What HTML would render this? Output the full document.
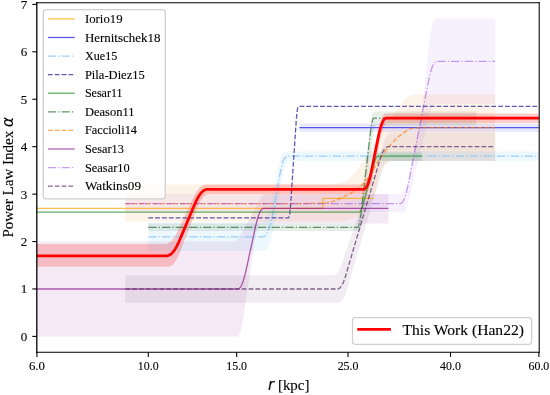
<!DOCTYPE html>
<html><head><meta charset="utf-8"><style>html,body{margin:0;padding:0;background:#fff;}svg{display:block;}</style></head><body>
<svg width="550" height="395" viewBox="0 0 550 395">
<rect width="550" height="395" fill="#fff"/>
<defs><clipPath id="ax"><rect x="36.90" y="2.70" width="502.00" height="349.60"/></clipPath></defs>
<g clip-path="url(#ax)">
<path d="M36.9,241.5 L233.9,241.5 L234.4,241.5 L234.9,241.4 L235.4,241.2 L235.9,240.9 L236.4,240.6 L236.9,240.2 L237.9,239.2 L238.4,238.6 L239.4,237.1 L240.4,235.3 L260.4,198.9 L260.9,198.1 L261.9,196.7 L262.9,195.6 L263.9,194.8 L264.4,194.5 L264.9,194.3 L265.4,194.2 L265.9,194.1 L266.4,194.1 L388.4,194.1 L388.4,223.5 L260.9,223.5 L260.4,223.5 L259.9,223.8 L259.4,224.3 L258.9,225.1 L258.4,226.1 L257.9,227.5 L257.4,229.0 L256.9,230.9 L256.4,233.0 L255.4,238.0 L254.4,244.1 L243.4,317.1 L242.4,323.0 L241.4,327.8 L240.9,329.8 L240.4,331.5 L239.9,333.0 L239.4,334.2 L238.9,335.2 L238.4,335.8 L237.9,336.3 L237.4,336.4 L36.9,336.4 Z" fill="#800080" fill-opacity="0.085" stroke="none"/>
<path d="M125.3,275.2 L333.7,275.2 L334.2,275.2 L334.7,275.1 L335.2,274.9 L335.7,274.6 L336.2,274.2 L336.7,273.7 L337.7,272.5 L338.7,271.0 L339.7,269.1 L340.7,266.9 L341.2,265.6 L342.2,262.9 L383.2,143.5 L383.7,142.1 L384.7,139.7 L385.7,137.6 L386.7,135.9 L387.2,135.2 L387.7,134.5 L388.7,133.5 L389.2,133.1 L389.7,132.8 L390.2,132.6 L390.7,132.5 L391.2,132.5 L495.2,132.5 L495.2,160.9 L389.2,160.9 L388.7,160.9 L388.2,161.1 L387.7,161.3 L387.2,161.7 L386.7,162.1 L386.2,162.7 L385.7,163.3 L385.2,164.0 L384.7,164.9 L383.7,166.9 L382.7,169.3 L381.7,172.1 L381.2,173.7 L347.2,288.4 L346.2,291.6 L345.7,293.1 L344.7,295.7 L343.7,297.8 L342.7,299.6 L341.7,301.0 L341.2,301.6 L340.7,302.0 L340.2,302.3 L339.7,302.6 L339.2,302.7 L338.7,302.7 L125.3,302.7 Z" fill="#6e4678" fill-opacity="0.100" stroke="none"/>
<path d="M125.3,184.6 L330.2,184.6 L331.7,184.6 L333.7,184.4 L335.7,184.0 L337.7,183.6 L341.2,182.6 L344.7,181.4 L345.7,181.0 L347.2,180.1 L348.7,179.0 L350.7,177.2 L353.7,174.1 L355.2,172.5 L356.2,171.3 L357.2,170.0 L358.2,168.6 L360.2,165.6 L368.7,151.7 L375.2,140.7 L377.7,136.6 L380.7,131.9 L384.2,126.8 L387.7,121.8 L390.7,117.8 L393.7,113.9 L397.7,109.0 L403.2,101.6 L404.7,99.8 L405.7,98.8 L407.2,97.4 L408.2,96.7 L409.2,96.2 L409.7,96.0 L412.7,95.3 L414.7,95.0 L416.2,94.7 L417.7,94.6 L419.2,94.5 L495.2,94.5 L495.2,160.9 L392.2,160.9 L391.2,161.0 L390.7,161.1 L389.7,161.4 L388.7,161.9 L387.2,162.8 L386.2,163.6 L384.7,165.0 L383.7,165.9 L383.2,166.6 L382.7,167.5 L382.2,168.4 L381.7,169.5 L380.7,172.0 L379.7,174.8 L377.7,180.7 L376.7,184.3 L375.2,190.4 L374.7,192.3 L374.2,193.9 L373.7,195.2 L372.2,198.6 L370.7,201.5 L369.2,204.0 L368.2,205.5 L367.2,206.8 L366.2,208.1 L364.7,209.8 L363.2,211.4 L361.7,213.0 L360.2,214.4 L359.2,215.2 L358.2,216.0 L357.2,216.7 L356.2,217.2 L355.2,217.7 L352.7,218.7 L350.2,219.6 L348.2,220.3 L346.7,220.7 L345.2,221.0 L343.7,221.3 L341.7,221.5 L339.7,221.6 L125.3,221.6 Z" fill="#f5a050" fill-opacity="0.130" stroke="none"/>
<path d="M125.3,194.1 L399.7,194.1 L400.2,194.1 L400.7,194.0 L401.2,193.7 L401.7,193.4 L402.7,192.4 L403.7,191.2 L404.7,189.8 L405.2,189.0 L405.7,187.9 L406.2,186.5 L406.7,184.8 L407.2,182.9 L408.2,178.6 L410.2,169.2 L412.2,160.1 L416.2,140.9 L418.2,131.9 L419.2,126.9 L419.7,124.0 L420.7,117.4 L422.7,102.4 L423.7,94.4 L424.7,85.8 L425.2,81.1 L427.2,61.1 L428.7,47.4 L429.7,39.1 L430.2,35.7 L431.2,29.8 L431.7,27.1 L432.2,24.8 L432.7,23.1 L433.2,22.0 L433.7,21.0 L434.2,20.2 L434.7,19.5 L435.2,19.0 L435.7,18.7 L436.2,18.6 L495.2,18.6 L495.2,104.0 L435.2,104.0 L434.7,104.0 L434.2,104.3 L433.7,104.7 L433.2,105.2 L432.7,105.9 L432.2,106.8 L431.7,107.9 L431.2,109.1 L430.2,112.0 L429.2,115.6 L409.2,198.7 L408.2,202.6 L407.2,205.8 L406.7,207.2 L406.2,208.4 L405.7,209.4 L405.2,210.3 L404.7,211.0 L404.2,211.5 L403.7,211.9 L403.2,212.1 L402.7,212.1 L125.3,212.1 Z" fill="#b478f0" fill-opacity="0.100" stroke="none"/>
<path d="M148.3,222.6 L260.7,222.6 L262.2,222.4 L263.2,222.2 L263.7,222.1 L264.2,221.4 L265.2,219.5 L266.2,218.0 L267.2,216.0 L268.2,213.6 L268.7,212.2 L269.2,210.7 L269.7,209.0 L270.7,204.9 L272.7,196.0 L275.1,184.0 L277.1,173.6 L278.1,168.8 L280.1,160.8 L281.1,157.2 L281.6,155.8 L282.1,154.7 L282.6,153.9 L283.6,152.8 L284.1,152.3 L284.6,151.9 L285.1,151.6 L285.6,151.5 L286.1,151.4 L538.9,151.4 L538.9,160.9 L289.1,160.9 L288.6,161.0 L288.1,161.2 L287.6,161.5 L287.1,162.0 L286.6,162.6 L285.6,164.0 L285.1,165.0 L284.6,166.5 L284.1,168.3 L283.1,172.8 L281.1,182.9 L280.1,189.0 L278.1,202.1 L275.6,217.4 L273.6,228.6 L272.7,233.8 L272.2,236.0 L271.7,237.9 L271.2,239.6 L270.2,242.7 L269.2,245.2 L268.2,247.2 L267.2,249.6 L266.7,250.4 L266.2,250.6 L265.2,250.9 L263.7,251.0 L148.3,251.0 Z" fill="#87cefa" fill-opacity="0.150" stroke="none"/>
<path d="M148.3,223.5 L356.5,223.5 L357.0,223.2 L357.5,222.4 L358.0,221.1 L358.5,219.3 L359.0,217.0 L359.5,214.3 L360.0,211.0 L360.5,207.2 L370.0,128.6 L370.5,124.7 L371.0,121.3 L371.4,118.5 L371.9,116.1 L372.4,114.2 L372.9,112.9 L373.4,112.0 L373.9,111.6 L374.4,111.6 L476.3,111.6 L476.3,125.3 L376.4,125.3 L375.9,125.4 L375.4,125.7 L374.9,126.6 L374.4,128.0 L373.9,129.8 L373.4,132.1 L372.9,134.9 L372.4,138.2 L371.9,142.0 L363.0,215.1 L362.5,218.8 L362.0,222.0 L361.5,224.8 L361.0,227.0 L360.5,228.8 L360.0,230.0 L359.5,230.8 L359.0,231.1 L148.3,231.1 Z" fill="#5f8c64" fill-opacity="0.150" stroke="none"/>
<path d="M36.9,212.1 L358.1,212.1 L358.6,211.9 L359.1,211.5 L359.6,210.8 L360.1,209.9 L360.6,208.8 L361.1,207.4 L361.6,205.8 L362.1,203.9 L373.1,160.1 L373.6,158.3 L374.0,156.8 L374.5,155.4 L375.0,154.4 L375.5,153.5 L376.0,152.9 L376.5,152.5 L377.0,152.4 L422.0,152.4 L422.0,160.9 L379.0,160.9 L378.5,161.0 L378.0,161.3 L377.5,161.9 L377.0,162.6 L376.5,163.5 L376.0,164.7 L375.5,166.0 L375.0,167.6 L364.1,205.1 L363.6,206.7 L363.1,208.1 L362.6,209.3 L362.1,210.2 L361.6,211.0 L361.1,211.6 L360.6,212.0 L360.1,212.1 L36.9,212.1 Z" fill="#3c8c46" fill-opacity="0.160" stroke="none"/>
<path d="M299.4,123.4 L538.9,123.4 L538.9,132.0 L299.4,132.0 Z" fill="#0000ff" fill-opacity="0.085" stroke="none"/>
<path d="M36.9,243.9 L165.4,243.9 L166.4,243.8 L167.4,243.5 L168.4,243.1 L169.4,242.5 L170.4,241.7 L171.4,240.7 L172.4,239.6 L173.4,238.3 L174.4,236.8 L175.9,234.3 L176.9,232.4 L177.9,230.4 L193.4,197.5 L194.9,194.6 L196.4,192.0 L197.4,190.5 L198.4,189.2 L199.4,188.0 L200.4,187.0 L201.4,186.2 L202.4,185.6 L202.9,185.3 L203.9,184.9 L204.9,184.7 L205.9,184.6 L362.9,184.6 L363.4,184.5 L363.9,184.3 L364.4,183.9 L364.9,183.4 L365.4,182.7 L365.9,181.9 L366.4,180.9 L367.4,178.5 L368.4,175.5 L368.9,173.8 L369.9,169.9 L370.9,165.5 L377.9,131.2 L378.9,127.0 L379.9,123.3 L380.4,121.6 L380.9,120.2 L381.9,117.7 L382.4,116.6 L382.9,115.7 L383.4,115.0 L383.9,114.4 L384.4,114.0 L384.9,113.6 L385.4,113.5 L538.9,113.5 L538.9,123.0 L387.4,123.0 L386.9,123.1 L386.4,123.4 L385.9,123.9 L385.4,124.5 L384.9,125.2 L384.4,126.1 L383.9,127.1 L382.9,129.7 L382.4,131.1 L381.9,132.8 L380.9,136.4 L379.9,140.7 L372.9,175.0 L371.9,179.4 L370.9,183.3 L370.4,185.0 L369.4,188.0 L368.4,190.4 L367.9,191.3 L367.4,192.2 L366.9,192.9 L366.4,193.4 L365.9,193.8 L365.4,194.0 L364.9,194.1 L208.9,194.1 L207.9,194.2 L206.9,194.5 L205.9,194.9 L204.9,195.6 L203.9,196.5 L203.4,197.1 L202.4,198.3 L201.4,199.7 L200.4,201.3 L199.4,203.2 L197.9,206.3 L196.4,209.9 L180.9,250.1 L179.9,252.6 L178.9,254.9 L177.9,257.0 L176.9,258.9 L175.9,260.6 L174.9,262.1 L173.9,263.4 L172.9,264.4 L172.4,264.9 L171.4,265.7 L170.4,266.2 L169.4,266.5 L168.4,266.7 L36.9,266.7 Z" fill="#ff0000" fill-opacity="0.200" stroke="none"/>
<path d="M36.9,208.3 L322.6,208.3 L323.1,198.4 L373.5,198.4" fill="none" stroke="#ffa500" stroke-width="1.30" stroke-opacity="0.70" stroke-linejoin="round"/>
<path d="M299.4,127.7 L538.9,127.7" fill="none" stroke="#3c3ce6" stroke-width="1.30" stroke-opacity="0.85" stroke-linejoin="round"/>
<path d="M148.3,236.8 L262.2,236.8 L263.7,236.7 L264.7,236.4 L265.2,236.2 L265.7,235.5 L266.7,233.4 L267.7,231.6 L268.7,229.3 L269.7,226.6 L270.2,225.0 L270.7,223.3 L271.2,221.4 L272.2,216.8 L274.1,206.7 L276.6,193.0 L278.6,181.3 L279.6,175.9 L281.6,166.8 L282.6,162.8 L283.1,161.1 L283.6,159.8 L284.1,159.0 L285.1,157.7 L285.6,157.2 L286.1,156.7 L286.6,156.4 L287.1,156.2 L287.6,156.2 L538.9,156.2" fill="none" stroke="#87c3f5" stroke-width="1.30" stroke-opacity="0.80" stroke-linejoin="round" stroke-dasharray="8.27,2.07,1.29,2.07"/>
<path d="M148.3,217.8 L288.6,217.8 L289.1,216.8 L289.6,214.3 L290.1,210.3 L290.6,204.7 L291.1,197.7 L296.1,122.6 L296.6,116.4 L297.1,111.6 L297.6,108.4 L298.1,106.7 L298.6,106.4 L538.9,106.4" fill="none" stroke="#3c3ca0" stroke-width="1.30" stroke-opacity="0.85" stroke-linejoin="round" stroke-dasharray="4.78,2.07"/>
<path d="M36.9,212.1 L359.1,212.1 L359.6,211.9 L360.1,211.5 L360.6,210.9 L361.1,210.1 L361.6,209.0 L362.1,207.7 L362.6,206.2 L363.1,204.4 L374.0,163.4 L374.5,161.8 L375.0,160.3 L375.5,159.0 L376.0,158.0 L376.5,157.2 L377.0,156.6 L377.5,156.3 L378.0,156.2 L422.0,156.2" fill="none" stroke="#3a9a3a" stroke-width="1.30" stroke-opacity="0.80" stroke-linejoin="round"/>
<path d="M148.3,227.3 L357.5,227.3 L358.0,227.1 L358.5,226.3 L359.0,224.9 L359.5,223.0 L360.0,220.4 L360.5,217.3 L361.0,213.7 L361.5,209.4 L370.5,131.8 L371.0,128.1 L371.4,125.0 L371.9,122.5 L372.4,120.6 L372.9,119.2 L373.4,118.4 L373.9,118.2 L476.3,118.2" fill="none" stroke="#3c7846" stroke-width="1.30" stroke-opacity="0.80" stroke-linejoin="round" stroke-dasharray="8.27,2.07,1.29,2.07"/>
<path d="M125.3,203.6 L302.8,203.6 L313.7,203.4 L324.7,203.1 L326.7,202.9 L328.7,202.6 L330.2,202.3 L332.2,201.7 L334.2,201.0 L336.2,200.2 L338.2,199.4 L340.7,198.2 L349.2,194.1 L352.2,192.4 L355.2,190.5 L358.2,188.3 L359.7,187.1 L361.2,185.8 L362.2,184.9 L363.2,183.8 L365.2,181.5 L367.2,178.9 L370.2,174.8 L371.2,173.3 L372.7,170.9 L377.2,163.0 L379.2,159.7 L381.2,156.8 L383.7,153.4 L386.2,150.1 L388.2,147.7 L391.7,143.6 L393.7,141.4 L395.7,139.3 L397.7,137.4 L399.2,136.1 L404.7,132.1 L407.2,130.4 L409.2,129.4 L410.2,128.9 L411.2,128.6 L412.2,128.3 L413.2,128.2 L418.2,127.9 L423.2,127.7 L495.2,127.7" fill="none" stroke="#ff7f0e" stroke-width="1.30" stroke-opacity="0.70" stroke-linejoin="round" stroke-dasharray="4.78,2.07"/>
<path d="M36.9,289.0 L237.9,289.0 L238.4,288.9 L238.9,288.7 L239.4,288.3 L239.9,287.8 L240.4,287.2 L240.9,286.4 L241.4,285.5 L242.4,283.2 L243.4,280.4 L243.9,278.8 L244.9,275.2 L245.9,271.0 L255.4,227.2 L255.9,225.0 L256.9,221.0 L257.9,217.5 L258.4,216.0 L258.9,214.6 L259.9,212.3 L260.4,211.3 L260.9,210.5 L261.4,209.8 L261.9,209.2 L262.4,208.8 L262.9,208.5 L263.4,208.4 L263.9,208.3 L388.4,208.3" fill="none" stroke="#800080" stroke-width="1.30" stroke-opacity="0.62" stroke-linejoin="round"/>
<path d="M125.3,203.6 L400.2,203.6 L400.7,203.6 L401.2,203.4 L401.7,203.0 L402.2,202.5 L402.7,201.8 L403.2,201.0 L403.7,200.1 L404.2,199.0 L405.2,196.3 L405.7,194.7 L406.2,193.0 L407.2,189.1 L408.2,184.6 L408.7,182.1 L428.7,80.2 L429.7,75.7 L430.2,73.6 L430.7,71.8 L431.7,68.5 L432.7,65.8 L433.2,64.7 L433.7,63.8 L434.2,63.0 L434.7,62.3 L435.2,61.9 L435.7,61.5 L436.2,61.3 L436.7,61.3 L495.2,61.3" fill="none" stroke="#8a2be2" stroke-width="1.30" stroke-opacity="0.45" stroke-linejoin="round" stroke-dasharray="8.27,2.07,1.29,2.07"/>
<path d="M125.3,289.0 L337.7,289.0 L338.2,288.9 L338.7,288.7 L339.2,288.4 L339.7,288.1 L340.2,287.6 L340.7,287.0 L341.7,285.5 L342.7,283.7 L343.7,281.4 L344.7,278.7 L345.2,277.2 L380.2,158.8 L380.7,157.3 L381.7,154.6 L382.7,152.3 L383.7,150.3 L384.2,149.5 L384.7,148.8 L385.2,148.2 L385.7,147.7 L386.2,147.3 L386.7,147.0 L387.2,146.8 L387.7,146.7 L388.2,146.7 L495.2,146.7" fill="none" stroke="#643c73" stroke-width="1.30" stroke-opacity="0.80" stroke-linejoin="round" stroke-dasharray="4.78,2.07"/>
<path d="M36.9,255.8 L166.9,255.8 L167.9,255.6 L168.9,255.3 L169.9,254.8 L170.9,254.1 L171.9,253.3 L172.9,252.2 L173.9,250.9 L175.4,248.7 L176.4,246.9 L177.4,245.0 L178.4,242.9 L179.4,240.6 L194.9,203.8 L196.4,200.5 L197.9,197.7 L198.9,196.0 L199.9,194.5 L200.9,193.2 L201.9,192.1 L202.9,191.2 L203.9,190.4 L204.9,189.9 L205.4,189.7 L206.4,189.4 L207.4,189.4 L363.4,189.4 L363.9,189.3 L364.4,189.2 L364.9,188.9 L365.4,188.4 L365.9,187.8 L366.4,187.1 L366.9,186.2 L367.4,185.1 L368.4,182.5 L369.4,179.4 L369.9,177.6 L370.9,173.5 L371.9,168.8 L378.4,136.4 L379.4,132.0 L380.4,128.2 L380.9,126.6 L381.4,125.0 L382.4,122.5 L382.9,121.4 L383.4,120.5 L383.9,119.8 L384.4,119.2 L384.9,118.7 L385.4,118.4 L385.9,118.2 L538.9,118.2" fill="none" stroke="#ff0000" stroke-width="2.75" stroke-opacity="1.00" stroke-linejoin="round"/>
</g>
<path d="M36.2,2.70 H539.7 M36.2,352.30 H539.7" stroke="#000" stroke-width="1.1" fill="none"/>
<path d="M36.8,2.1 V352.9" stroke="#000" stroke-width="1.3" fill="none"/>
<path d="M539.2,2.1 V352.9" stroke="#000" stroke-width="1.05" fill="none"/>
<line x1="32.30" y1="336.40" x2="36.90" y2="336.40" stroke="#000" stroke-width="1.1"/>
<text x="27.2" y="340.80" font-size="13" text-anchor="end" font-family="'Liberation Serif', 'DejaVu Serif', serif" stroke="#000" stroke-width="0.12">0</text>
<line x1="32.30" y1="288.97" x2="36.90" y2="288.97" stroke="#000" stroke-width="1.1"/>
<text x="27.2" y="293.37" font-size="13" text-anchor="end" font-family="'Liberation Serif', 'DejaVu Serif', serif" stroke="#000" stroke-width="0.12">1</text>
<line x1="32.30" y1="241.54" x2="36.90" y2="241.54" stroke="#000" stroke-width="1.1"/>
<text x="27.2" y="245.94" font-size="13" text-anchor="end" font-family="'Liberation Serif', 'DejaVu Serif', serif" stroke="#000" stroke-width="0.12">2</text>
<line x1="32.30" y1="194.11" x2="36.90" y2="194.11" stroke="#000" stroke-width="1.1"/>
<text x="27.2" y="198.51" font-size="13" text-anchor="end" font-family="'Liberation Serif', 'DejaVu Serif', serif" stroke="#000" stroke-width="0.12">3</text>
<line x1="32.30" y1="146.68" x2="36.90" y2="146.68" stroke="#000" stroke-width="1.1"/>
<text x="27.2" y="151.08" font-size="13" text-anchor="end" font-family="'Liberation Serif', 'DejaVu Serif', serif" stroke="#000" stroke-width="0.12">4</text>
<line x1="32.30" y1="99.25" x2="36.90" y2="99.25" stroke="#000" stroke-width="1.1"/>
<text x="27.2" y="103.65" font-size="13" text-anchor="end" font-family="'Liberation Serif', 'DejaVu Serif', serif" stroke="#000" stroke-width="0.12">5</text>
<line x1="32.30" y1="51.82" x2="36.90" y2="51.82" stroke="#000" stroke-width="1.1"/>
<text x="27.2" y="56.22" font-size="13" text-anchor="end" font-family="'Liberation Serif', 'DejaVu Serif', serif" stroke="#000" stroke-width="0.12">6</text>
<line x1="32.30" y1="4.39" x2="36.90" y2="4.39" stroke="#000" stroke-width="1.1"/>
<text x="27.2" y="8.79" font-size="13" text-anchor="end" font-family="'Liberation Serif', 'DejaVu Serif', serif" stroke="#000" stroke-width="0.12">7</text>
<line x1="36.90" y1="352.30" x2="36.90" y2="356.90" stroke="#000" stroke-width="1.1"/>
<text x="36.90" y="370.4" font-size="13" text-anchor="middle" font-family="'Liberation Serif', 'DejaVu Serif', serif" stroke="#000" stroke-width="0.12" textLength="16.0" lengthAdjust="spacingAndGlyphs">6.0</text>
<line x1="148.27" y1="352.30" x2="148.27" y2="356.90" stroke="#000" stroke-width="1.1"/>
<text x="148.27" y="370.4" font-size="13" text-anchor="middle" font-family="'Liberation Serif', 'DejaVu Serif', serif" stroke="#000" stroke-width="0.12" textLength="20.8" lengthAdjust="spacingAndGlyphs">10.0</text>
<line x1="236.67" y1="352.30" x2="236.67" y2="356.90" stroke="#000" stroke-width="1.1"/>
<text x="236.67" y="370.4" font-size="13" text-anchor="middle" font-family="'Liberation Serif', 'DejaVu Serif', serif" stroke="#000" stroke-width="0.12" textLength="20.8" lengthAdjust="spacingAndGlyphs">15.0</text>
<line x1="348.03" y1="352.30" x2="348.03" y2="356.90" stroke="#000" stroke-width="1.1"/>
<text x="348.03" y="370.4" font-size="13" text-anchor="middle" font-family="'Liberation Serif', 'DejaVu Serif', serif" stroke="#000" stroke-width="0.12" textLength="20.8" lengthAdjust="spacingAndGlyphs">25.0</text>
<line x1="450.50" y1="352.30" x2="450.50" y2="356.90" stroke="#000" stroke-width="1.1"/>
<text x="450.50" y="370.4" font-size="13" text-anchor="middle" font-family="'Liberation Serif', 'DejaVu Serif', serif" stroke="#000" stroke-width="0.12" textLength="20.8" lengthAdjust="spacingAndGlyphs">40.0</text>
<line x1="538.90" y1="352.30" x2="538.90" y2="356.90" stroke="#000" stroke-width="1.1"/>
<text x="538.90" y="370.4" font-size="13" text-anchor="middle" font-family="'Liberation Serif', 'DejaVu Serif', serif" stroke="#000" stroke-width="0.12" textLength="20.8" lengthAdjust="spacingAndGlyphs">60.0</text>
<text x="268" y="389.8" font-size="15" font-family="'Liberation Serif', 'DejaVu Serif', serif" stroke="#000" stroke-width="0.12" textLength="41.5" lengthAdjust="spacingAndGlyphs"><tspan font-family="'DejaVu Sans', sans-serif" font-style="italic" font-size="15">r</tspan> [kpc]</text>
<text transform="translate(12.5,237.6) rotate(-90)" font-size="15.5" font-family="'Liberation Serif', 'DejaVu Serif', serif" stroke="#000" stroke-width="0.12" textLength="120.5" lengthAdjust="spacingAndGlyphs">Power Law Index <tspan font-family="'DejaVu Sans', sans-serif" font-style="italic">α</tspan></text>
<rect x="43.3" y="9.7" width="122" height="189.1" rx="2.8" fill="#fff" fill-opacity="0.8" stroke="#cfcfcf" stroke-width="1.25"/>
<line x1="47.9" y1="18.90" x2="74.7" y2="18.90" stroke="#ffa500" stroke-width="1.30" stroke-opacity="0.70"/>
<text x="84.9" y="23.00" font-size="13.4" font-family="'Liberation Serif', 'DejaVu Serif', serif" stroke="#000" stroke-width="0.12" textLength="37.7" lengthAdjust="spacingAndGlyphs">Iorio19</text>
<line x1="47.9" y1="37.48" x2="74.7" y2="37.48" stroke="#3c3ce6" stroke-width="1.30" stroke-opacity="0.85"/>
<text x="84.9" y="41.58" font-size="13.4" font-family="'Liberation Serif', 'DejaVu Serif', serif" stroke="#000" stroke-width="0.12" textLength="75.5" lengthAdjust="spacingAndGlyphs">Hernitschek18</text>
<line x1="47.9" y1="56.06" x2="74.7" y2="56.06" stroke="#87c3f5" stroke-width="1.30" stroke-opacity="0.80" stroke-dasharray="8.27,2.07,1.29,2.07"/>
<text x="84.9" y="60.16" font-size="13.4" font-family="'Liberation Serif', 'DejaVu Serif', serif" stroke="#000" stroke-width="0.12" textLength="32.4" lengthAdjust="spacingAndGlyphs">Xue15</text>
<line x1="47.9" y1="74.64" x2="74.7" y2="74.64" stroke="#3c3ca0" stroke-width="1.30" stroke-opacity="0.85" stroke-dasharray="4.78,2.07"/>
<text x="84.9" y="78.74" font-size="13.4" font-family="'Liberation Serif', 'DejaVu Serif', serif" stroke="#000" stroke-width="0.12" textLength="59.9" lengthAdjust="spacingAndGlyphs">Pila-Diez15</text>
<line x1="47.9" y1="93.22" x2="74.7" y2="93.22" stroke="#3a9a3a" stroke-width="1.30" stroke-opacity="0.80"/>
<text x="84.9" y="97.32" font-size="13.4" font-family="'Liberation Serif', 'DejaVu Serif', serif" stroke="#000" stroke-width="0.12" textLength="37.6" lengthAdjust="spacingAndGlyphs">Sesar11</text>
<line x1="47.9" y1="111.80" x2="74.7" y2="111.80" stroke="#3c7846" stroke-width="1.30" stroke-opacity="0.80" stroke-dasharray="8.27,2.07,1.29,2.07"/>
<text x="84.9" y="115.90" font-size="13.4" font-family="'Liberation Serif', 'DejaVu Serif', serif" stroke="#000" stroke-width="0.12" textLength="49.7" lengthAdjust="spacingAndGlyphs">Deason11</text>
<line x1="47.9" y1="130.38" x2="74.7" y2="130.38" stroke="#ff7f0e" stroke-width="1.30" stroke-opacity="0.70" stroke-dasharray="4.78,2.07"/>
<text x="84.9" y="134.48" font-size="13.4" font-family="'Liberation Serif', 'DejaVu Serif', serif" stroke="#000" stroke-width="0.12" textLength="52.1" lengthAdjust="spacingAndGlyphs">Faccioli14</text>
<line x1="47.9" y1="148.96" x2="74.7" y2="148.96" stroke="#800080" stroke-width="1.30" stroke-opacity="0.62"/>
<text x="84.9" y="153.06" font-size="13.4" font-family="'Liberation Serif', 'DejaVu Serif', serif" stroke="#000" stroke-width="0.12" textLength="38.9" lengthAdjust="spacingAndGlyphs">Sesar13</text>
<line x1="47.9" y1="167.54" x2="74.7" y2="167.54" stroke="#8a2be2" stroke-width="1.30" stroke-opacity="0.45" stroke-dasharray="8.27,2.07,1.29,2.07"/>
<text x="84.9" y="171.64" font-size="13.4" font-family="'Liberation Serif', 'DejaVu Serif', serif" stroke="#000" stroke-width="0.12" textLength="44.8" lengthAdjust="spacingAndGlyphs">Seasar10</text>
<line x1="47.9" y1="186.12" x2="74.7" y2="186.12" stroke="#643c73" stroke-width="1.30" stroke-opacity="0.80" stroke-dasharray="4.78,2.07"/>
<text x="84.9" y="190.22" font-size="13.4" font-family="'Liberation Serif', 'DejaVu Serif', serif" stroke="#000" stroke-width="0.12" textLength="56.1" lengthAdjust="spacingAndGlyphs">Watkins09</text>
<rect x="352.5" y="317.7" width="179.1" height="26.7" rx="2.8" fill="#fff" fill-opacity="0.8" stroke="#cfcfcf" stroke-width="1.25"/>
<line x1="357.3" y1="329.3" x2="390.9" y2="329.3" stroke="#ff0000" stroke-width="2.7"/>
<text x="402.5" y="334.7" font-size="15.6" font-family="'Liberation Serif', 'DejaVu Serif', serif" stroke="#000" stroke-width="0.12">This Work (Han22)</text>
</svg>
</body></html>
